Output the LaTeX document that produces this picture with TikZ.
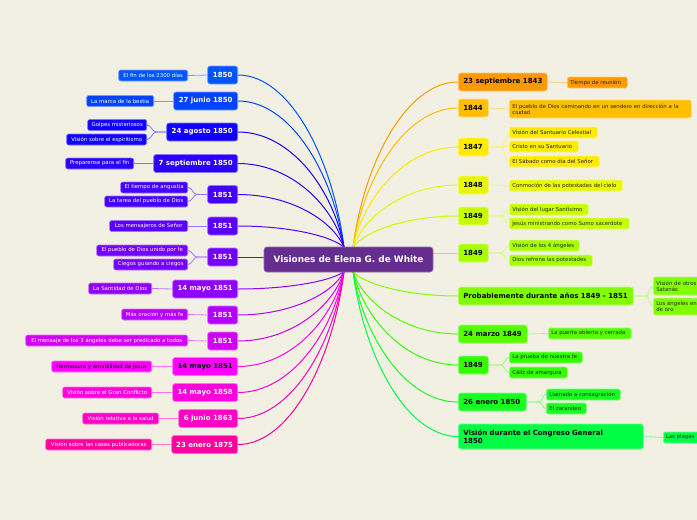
\documentclass[tikz,border=0pt]{standalone}
\usepackage{fontspec}
\setmainfont{DejaVu Sans}
\usetikzlibrary{calc,backgrounds}
\definecolor{bgc}{HTML}{F2F0E3}
\definecolor{cen}{HTML}{662D91}
\definecolor{L1}{HTML}{0055FF}
\definecolor{L2}{HTML}{0044FF}
\definecolor{L3}{HTML}{1100FF}
\definecolor{L4}{HTML}{2A00FF}
\definecolor{L5}{HTML}{4400FF}
\definecolor{L6}{HTML}{5A00FF}
\definecolor{L7}{HTML}{7200FF}
\definecolor{L8}{HTML}{9000FF}
\definecolor{L9}{HTML}{B400FF}
\definecolor{L10}{HTML}{D200F5}
\definecolor{L11}{HTML}{FF00FF}
\definecolor{L12}{HTML}{FF00DD}
\definecolor{L13}{HTML}{FF00C4}
\definecolor{L14}{HTML}{FF00A0}
\definecolor{R1}{HTML}{FF9900}
\definecolor{R2}{HTML}{FFBF00}
\definecolor{R3}{HTML}{FFEA00}
\definecolor{R4}{HTML}{E8F800}
\definecolor{R5}{HTML}{C8FF00}
\definecolor{R6}{HTML}{A8FF00}
\definecolor{R7}{HTML}{80FF00}
\definecolor{R8}{HTML}{55FF00}
\definecolor{R9}{HTML}{33FF00}
\definecolor{R10}{HTML}{18FF22}
\definecolor{R11}{HTML}{00FF44}
\newcommand\mmcurve[3]{\draw[conn=#1] let \p1=(#2), \p2=(#3) in (\p1) .. controls ({\x1+0.5*(\x2-\x1)},\y1) and ({\x2-0.1*(\x2-\x1)},{\y1+0.5*(\y2-\y1)}) .. (\p2);}
\newcommand\fanL[3]{\draw[subconn=#1] (#2.west) -- ++(-10,0) .. controls +(-4,0) and +(4,0) .. (#3.east);}
\newcommand\fanR[3]{\draw[subconn=#1] (#2.east) -- ++(12,0) .. controls +(4,0) and +(-4,0) .. (#3.west);}
\newcommand\oneL[3]{\draw[subconn=#1] (#2.west) -- (#3.east);}
\newcommand\oneR[3]{\draw[subconn=#1] (#2.east) -- (#3.west);}
\newcommand\lb[2]{\makebox[#1pt][l]{#2}}
\begin{document}
\begin{tikzpicture}[x=1pt,y=-1pt,
  mainbox/.style={draw=#1!55!white, fill=#1, rounded corners=2.5pt, line width=0.7pt,
    font=\bfseries\fontsize{7}{7.8}\selectfont, minimum height=18pt, inner xsep=5pt, inner ysep=1pt},
  mainL/.style={mainbox=#1, text=white, anchor=east, inner xsep=3pt},
  mainR/.style={mainbox=#1, text=black, anchor=west},
  subbox/.style={draw=#1!55!white, fill=#1, rounded corners=2pt, line width=0.6pt,
    font=\fontsize{5.4}{6.2}\selectfont, minimum height=11pt, inner xsep=3pt, inner ysep=1pt},
  subL/.style={subbox=#1, text=white, anchor=east, inner xsep=2pt},
  subR/.style={subbox=#1, text=black!85, anchor=west},
  conn/.style={draw=#1, line width=1pt},
  subconn/.style={draw=#1!55!white, line width=0.8pt},
  center/.style={fill=cen, draw=cen!70!white, line width=0.7pt, rounded corners=3pt, text=white,
    font=\bfseries\fontsize{8.9}{10}\selectfont, minimum width=169pt, minimum height=25pt, inner xsep=2pt}
]
\useasboundingbox (0,0) rectangle (697,520);
\begin{scope}[on background layer]
\fill[bgc] (0,0) rectangle (697,520);
\end{scope}

\node[center] (c) at (348.5,259.5) {Visiones de Elena G. de White};
\coordinate (cUL) at (344,247.5);
\coordinate (cUR) at (353,247.5);
\coordinate (cLL) at (344,271.5);
\coordinate (cLR) at (353,271.5);

% left main
\node[mainL=L1, minimum width=30pt] (m1) at (238,75) {1850};
\node[mainL=L2, minimum width=64pt] (m2) at (238,101) {27 junio 1850};
\node[mainL=L3, minimum width=71pt] (m3) at (238,132) {24 agosto 1850};
\node[mainL=L4, minimum width=84pt] (m4) at (238,163.5) {7 septiembre 1850};
\node[mainL=L5, minimum width=30pt] (m5) at (238,194.5) {1851};
\node[mainL=L6, minimum width=30pt] (m6) at (238,226) {1851};
\node[mainL=L7, minimum width=30pt] (m7) at (238,257) {1851};
\node[mainL=L8, minimum width=65pt] (m8) at (238,289) {14 mayo 1851};
\node[mainL=L9, minimum width=30pt] (m9) at (238,315) {1851};
\node[mainL=L10, minimum width=30pt] (m10) at (238,341) {1851};
\node[mainL=L11, minimum width=65pt, text=black] (m11) at (238,366.5) {14 mayo 1851};
\node[mainL=L12, minimum width=65pt] (m12) at (238,392.5) {14 mayo 1858};
\node[mainL=L13, minimum width=59pt] (m13) at (238,418.5) {6 junio 1863};
\node[mainL=L14, minimum width=66pt] (m14) at (238,444.5) {23 enero 1875};

% left subs
\node[subL=L1, minimum width=69pt] (s1) at (188,75.5) {El fin de los 2300 días};
\node[subL=L2, minimum width=67pt] (s2) at (154,101) {La marca de la bestia};
\node[subL=L3, minimum width=59pt] (s3a) at (147,125) {Golpes misteriosos};
\node[subL=L3, minimum width=80pt] (s3b) at (147,139.5) {Visión sobre el espiritismo};
\node[subL=L4, minimum width=68pt] (s4) at (134,163.5) {Preparense para el fin};
\node[subL=L5, minimum width=67pt] (s5a) at (188,187.5) {El tiempo de angustia};
\node[subL=L5, minimum width=83pt] (s5b) at (188,201.5) {La tarea del pueblo de Dios};
\node[subL=L6, minimum width=78pt] (s6) at (188,226) {Los mensajeros de Señor};
\node[subL=L7, minimum width=91pt] (s7a) at (188,250.5) {El pueblo de Dios unido por fe};
\node[subL=L7, minimum width=74pt] (s7b) at (188,264.5) {Ciegos guiando a ciegos};
\node[subL=L8, minimum width=63pt] (s8) at (152,288.5) {La Santidad de Dios};
\node[subL=L9, minimum width=66pt] (s9) at (188,314.5) {Más oración y más fe};
\node[subL=L10, minimum width=162pt] (s10) at (188,340.5) {El mensaje de los 3 ángeles debe ser predicado a todos};
\node[subL=L11, minimum width=100pt, text=black] (s11) at (152,366.5) {Hermosura y amabilidad de Jesús};
\node[subL=L12, minimum width=89pt] (s12) at (152,392.5) {Visión sobre el Gran Conflicto};
\node[subL=L13, minimum width=76pt] (s13) at (159,418.5) {Visión relativa a la salud};
\node[subL=L14, minimum width=106pt] (s14) at (152,444.5) {Visión sobre las casas publicadoras};

% right main
\node[mainR=R1] (r1) at (458,82) {\lb{79}{23 septiembre 1843}};
\node[mainR=R2] (r2) at (458,108) {\lb{20}{1844}};
\node[mainR=R3] (r3) at (458,147) {\lb{20}{1847}};
\node[mainR=R4] (r4) at (458,185) {\lb{20}{1848}};
\node[mainR=R5] (r5) at (458,216) {\lb{20}{1849}};
\node[mainR=R6] (r6) at (458,253) {\lb{20}{1849}};
\node[mainR=R7] (r7) at (458,296) {\lb{165}{Probablemente durante años 1849 - 1851}};
\node[mainR=R8] (r8) at (458,334) {\lb{59}{24 marzo 1849}};
\node[mainR=R9] (r9) at (458,365) {\lb{20}{1849}};
\node[mainR=R10] (r10) at (458,402) {\lb{58}{26 enero 1850}};
\node[mainR=R11, text width=175pt, align=left, minimum height=25pt] (r11) at (458,436.5) {Visión durante el Congreso General\\1850};

% right subs
\node[subR=R1] (t1) at (567,82.5) {\lb{54}{Tiempo de reunión}};
\node[subR=R2, text width=176pt, align=left, minimum height=18pt] (t2) at (509,109) {El pueblo de Dios caminando en un sendero en dirección a la\\ciudad};
\node[subR=R3] (t3a) at (509,132.5) {\lb{82}{Visión del Santuario Celestial}};
\node[subR=R3] (t3b) at (509,146.5) {\lb{63}{Cristo en su Santuario}};
\node[subR=R3] (t3c) at (509,161.5) {\lb{84}{El Sábado como día del Señor}};
\node[subR=R4] (t4) at (509,185.5) {\lb{107}{Conmoción de las potestades del cielo}};
\node[subR=R5] (t5a) at (509,209.5) {\lb{73}{Visión del lugar Santísimo}};
\node[subR=R5] (t5b) at (509,223.5) {\lb{114}{Jesús ministrando como Sumo sacerdote}};
\node[subR=R6] (t6a) at (509,245.5) {\lb{64}{Visión de los 4 ángeles}};
\node[subR=R6] (t6b) at (509,260.5) {\lb{77}{Dios refrena las potestades}};
\node[subR=R7, text width=80pt, align=left, minimum height=18pt] (t7a) at (653,286) {Visión de otros\\Satanás};
\node[subR=R7, text width=80pt, align=left, minimum height=17pt] (t7b) at (653,306.5) {Los ángeles en\\de oro};
\node[subR=R8] (t8) at (548,333.5) {\lb{77}{La puerta abierta y cerrada}};
\node[subR=R9] (t9a) at (509,357.5) {\lb{67}{La prueba de nuestra fe}};
\node[subR=R9] (t9b) at (509,372.5) {\lb{52}{Cáliz de amargura}};
\node[subR=R10] (t10a) at (546,394.5) {\lb{68}{Llamado a consagración}};
\node[subR=R10] (t10b) at (546,408.5) {\lb{34}{El zarandeo}};
\node[subR=R11, inner xsep=2.5pt] (t11) at (663,437.5) {\lb{40}{Las plagas}};

\begin{scope}[on background layer]
% center connectors left
\mmcurve{L1}{m1.east}{cUL}
\mmcurve{L2}{m2.east}{cUL}
\mmcurve{L3}{m3.east}{cUL}
\mmcurve{L4}{m4.east}{cUL}
\mmcurve{L5}{m5.east}{cUL}
\mmcurve{L6}{m6.east}{cUL}
\draw[conn=L7] (m7.east) -- (m7.east -| c.west);
\mmcurve{L8}{m8.east}{cLL}
\mmcurve{L9}{m9.east}{cLL}
\mmcurve{L10}{m10.east}{cLL}
\mmcurve{L11}{m11.east}{cLL}
\mmcurve{L12}{m12.east}{cLL}
\mmcurve{L13}{m13.east}{cLL}
\mmcurve{L14}{m14.east}{cLL}
% center connectors right
\mmcurve{R1}{r1.west}{cUR}
\mmcurve{R2}{r2.west}{cUR}
\mmcurve{R3}{r3.west}{cUR}
\mmcurve{R4}{r4.west}{cUR}
\mmcurve{R5}{r5.west}{cUR}
\draw[conn=R6] (r6.west) -- (r6.west -| c.east);
\mmcurve{R7}{r7.west}{cLR}
\mmcurve{R8}{r8.west}{cLR}
\mmcurve{R9}{r9.west}{cLR}
\mmcurve{R10}{r10.west}{cLR}
\mmcurve{R11}{r11.west}{cLR}
% sub connectors left
\oneL{L1}{m1}{s1}
\oneL{L2}{m2}{s2}
\fanL{L3}{m3}{s3a}
\fanL{L3}{m3}{s3b}
\oneL{L4}{m4}{s4}
\fanL{L5}{m5}{s5a}
\fanL{L5}{m5}{s5b}
\oneL{L6}{m6}{s6}
\fanL{L7}{m7}{s7a}
\fanL{L7}{m7}{s7b}
\oneL{L8}{m8}{s8}
\oneL{L9}{m9}{s9}
\oneL{L10}{m10}{s10}
\oneL{L11}{m11}{s11}
\oneL{L12}{m12}{s12}
\oneL{L13}{m13}{s13}
\oneL{L14}{m14}{s14}
% sub connectors right
\oneR{R1}{r1}{t1}
\oneR{R2}{r2}{t2}
\fanR{R3}{r3}{t3a}
\fanR{R3}{r3}{t3b}
\fanR{R3}{r3}{t3c}
\oneR{R4}{r4}{t4}
\fanR{R5}{r5}{t5a}
\fanR{R5}{r5}{t5b}
\fanR{R6}{r6}{t6a}
\fanR{R6}{r6}{t6b}
\fanR{R7}{r7}{t7a}
\fanR{R7}{r7}{t7b}
\oneR{R8}{r8}{t8}
\fanR{R9}{r9}{t9a}
\fanR{R9}{r9}{t9b}
\fanR{R10}{r10}{t10a}
\fanR{R10}{r10}{t10b}
\oneR{R11}{r11}{t11}
\end{scope}
\end{tikzpicture}
\end{document}
